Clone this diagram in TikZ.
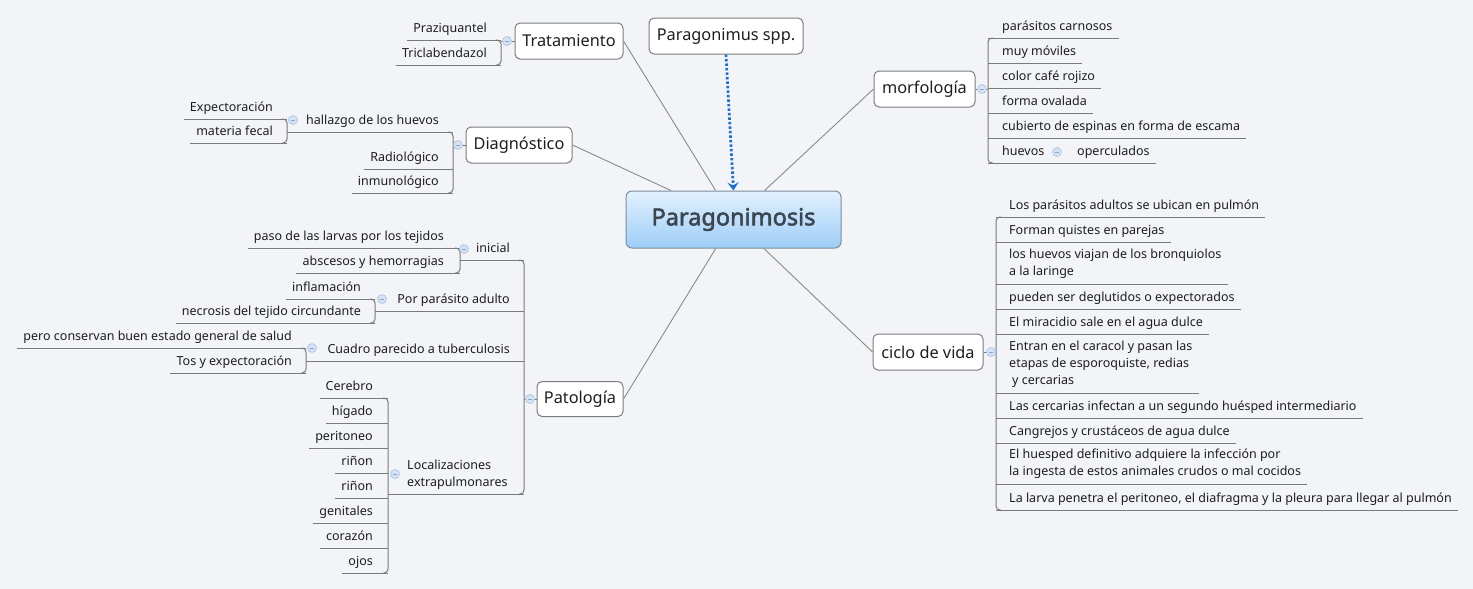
\documentclass[tikz,border=0pt]{standalone}
\usepackage{fontspec}
\setmainfont{Noto Sans}
\newfontfamily\cfont{Noto Sans}[FakeBold=2.2]
\usetikzlibrary{arrows.meta,calc}
\definecolor{bg}{HTML}{F3F4F7}
\definecolor{txt}{HTML}{1E1E1E}
\definecolor{boxc}{HTML}{7D7D7D}
\definecolor{linec}{HTML}{8A8A8A}
\definecolor{ulc}{HTML}{7A7A7A}
\definecolor{togf}{HTML}{D3E2F4}
\definecolor{togd}{HTML}{A9C2E2}
\definecolor{togm}{HTML}{8AA6CC}
\definecolor{arrc}{HTML}{1A6FD0}
\definecolor{ctop}{HTML}{E2F1FF}
\definecolor{cbot}{HTML}{9DCDF7}
\definecolor{cbord}{HTML}{7E8C9A}
\definecolor{ctext}{HTML}{3C4650}
\tikzset{
  topic/.style={draw=boxc, fill=white, rounded corners=5pt, line width=1pt,
    font=\fontsize{16.3}{20}\selectfont, text=txt, inner sep=0pt},
  leaf/.style={font=\fontsize{12.5}{17}\selectfont, text=txt, inner sep=0pt},
  ln/.style={draw=linec, line width=0.9pt},
  ul/.style={draw=ulc, line width=1pt},
  brk/.style={ul, rounded corners=4pt},
  tog/.style={circle, draw=togd, fill=togf, minimum size=9pt, inner sep=0pt, line width=0.6pt,
    path picture={\draw[togm, line width=0.8pt] ([xshift=-2.2pt]path picture bounding box.center) -- ([xshift=2.2pt]path picture bounding box.center);}},
  arr/.style={draw=arrc, line width=2.7pt, dash pattern=on 2.5pt off 2pt,
    -{Stealth[length=8pt, width=11pt, inset=3pt]}}
}
\newcommand\lleaf[5]{%
  \node[leaf, anchor=base east] (#1) at (#2,#3-7.5) {#5};
  \coordinate (#1u) at (#4,#3);
  \draw[ul] ($(#1.west |- #1u)+(-6,0)$) -- (#1u);}
\newcommand\rleaf[5]{%
  \node[leaf, anchor=base west] (#1) at (#2,#3-7.5) {#5};
  \coordinate (#1u) at (#4,#3);
  \draw[ul] (#1u) -- ($(#1.east |- #1u)+(6,0)$);}
\newcommand\rleafm[5]{%
  \node[leaf, anchor=south west, align=left] (#1) at (#2,#3-5) {#5};
  \coordinate (#1u) at (#4,#3);
  \draw[ul] (#1u) -- ($(#1.east |- #1u)+(6,0)$);}
\begin{document}
\begin{tikzpicture}[x=1pt,y=-1pt]
\fill[bg] (0,0) rectangle (1473,589);
\useasboundingbox (0,0) rectangle (1473,589);

% central
\node[draw=cbord, rounded corners=6pt, top color=ctop, bottom color=cbot, line width=1pt,
  minimum width=215pt, minimum height=57pt, inner sep=0pt,
  font=\cfont\fontsize{23.5}{28}\selectfont, text=ctext] (central) at (733.5,219.5) {Paragonimosis};
\node[topic, minimum width=154pt, minimum height=36pt] (ps) at (726,36) {Paragonimus spp.};
\draw[arr] (ps.south) -- (central.north);

% main topics
\node[topic, minimum width=108pt, minimum height=36pt] (tra) at (569,41) {Tratamiento};
\node[topic, minimum width=106pt, minimum height=36pt] (dia) at (519,145) {Diagnóstico};
\node[topic, minimum width=86pt, minimum height=35pt] (pat) at (580,399) {Patología};
\node[topic, minimum width=101pt, minimum height=36pt] (mor) at (924.5,89) {morfología};
\node[topic, minimum width=110pt, minimum height=36pt] (cic) at (928,352) {ciclo de vida};

\draw[ln] (central) -- (tra.east);
\draw[ln] (central) -- (dia.east);
\draw[ln] (central) -- (pat.east);
\draw[ln] (central) -- (mor.west);
\draw[ln] (central) -- (cic.west);

% ---- Tratamiento
\coordinate (trab) at (501,41);
\draw[ul] (trab) -- (tra.west);
\draw[brk] (496,40) -- (501,40) -- (501,65) -- (496,65);
\lleaf{pz}{487}{40}{501}{Praziquantel}
\lleaf{tc}{487}{65}{501}{Triclabendazol}
\node[tog] (tratg) at (507,41) {};

% ---- Diagnóstico
\coordinate (diab) at (453,145);
\draw[ul] (diab) -- (dia.west);
\draw[brk] (448,132) -- (453,132) -- (453,193) -- (448,193);
\node[leaf, anchor=base east] (hal) at (439,124.5) {hallazgo de los huevos};
\coordinate (halb) at (287,132);
\draw[ul] (halb) -- (453,132);
\draw[brk] (282,119) -- (287,119) -- (287,143) -- (282,143);
\lleaf{expo}{273}{119}{287}{Expectoración}
\lleaf{mf}{273}{143}{287}{materia fecal}
\lleaf{rad}{439}{169}{453}{Radiológico}
\lleaf{inm}{439}{193}{453}{inmunológico}
\node[tog] (diatg) at (458,145) {};
\node[tog] (haltg) at (293,120) {};

% ---- Patología
\coordinate (patb) at (524,399);
\draw[ul] (patb) -- (pat.west);
\draw[brk] (519,260) -- (524,260) -- (524,494) -- (519,494);
% inicial
\node[leaf, anchor=base east] (ini) at (510,252.5) {inicial};
\draw[ul] (460,260) -- (524,260);
\draw[brk] (455,248) -- (460,248) -- (460,273) -- (455,273);
\lleaf{pl}{444}{248}{460}{paso de las larvas por los tejidos}
\lleaf{abs}{444}{273}{460}{abscesos y hemorragias}
% por parasito adulto
\node[leaf, anchor=base east] (por) at (510,303.5) {Por parásito adulto};
\draw[ul] (375,311) -- (524,311);
\draw[brk] (370,299) -- (375,299) -- (375,323) -- (370,323);
\lleaf{infl}{361}{299}{375}{inflamación}
\lleaf{nec}{361}{323}{375}{necrosis del tejido circundante}
% cuadro
\node[leaf, anchor=base east] (cua) at (510,353.5) {Cuadro parecido a tuberculosis};
\draw[ul] (306,361) -- (524,361);
\draw[brk] (301,348) -- (306,348) -- (306,373) -- (301,373);
\lleaf{pco}{292}{348}{306}{pero conservan buen estado general de salud}
\lleaf{tos}{292}{373}{306}{Tos y expectoración}
% localizaciones
\node[leaf, anchor=south west, align=left] (loc) at (407,489.5) {Localizaciones\\extrapulmonares};
\draw[ul] (388,494) -- (524,494);
\draw[brk] (383,398) -- (388,398) -- (388,573) -- (383,573);
\lleaf{l1}{373}{398}{388}{Cerebro}
\lleaf{l2}{373}{423}{388}{hígado}
\lleaf{l3}{373}{448}{388}{peritoneo}
\lleaf{l4}{373}{473}{388}{riñon}
\lleaf{l5}{373}{498}{388}{riñon}
\lleaf{l6}{373}{523}{388}{genitales}
\lleaf{l7}{373}{548}{388}{corazón}
\lleaf{l8}{373}{573}{388}{ojos}
\node[tog] (pattg) at (530,399) {};
\node[tog] (initg) at (464,249) {};
\node[tog] (portg) at (382,299) {};
\node[tog] (cuatg) at (312,348) {};
\node[tog] (loctg) at (395,474) {};

% ---- morfología
\coordinate (morb) at (988,89);
\draw[ul] (mor.east) -- (morb);
\draw[brk] (993,38) -- (988,38) -- (988,163) -- (993,163);
\rleaf{m1}{1002}{38}{988}{parásitos carnosos}
\rleaf{m2}{1002}{63}{988}{muy móviles}
\rleaf{m3}{1002}{88}{988}{color café rojizo}
\rleaf{m4}{1002}{113}{988}{forma ovalada}
\rleaf{m5}{1002}{138}{988}{cubierto de espinas en forma de escama}
\node[leaf, anchor=base west] (hue) at (1002,155.5) {huevos};
\node[leaf, anchor=base west] (ope) at (1077,155.5) {operculados};
\coordinate (hueb) at (988,163);
\draw[ul] (hueb) -- ($(ope.east |- hueb)+(6,0)$);
\node[tog] (mortg) at (982,89) {};
\node[tog] (huetg) at (1057,152) {};

% ---- ciclo de vida
\coordinate (cicb) at (996,352);
\draw[ul] (cic.east) -- (cicb);
\draw[brk] (1001,217) -- (996,217) -- (996,510) -- (1001,510);
\rleaf{c1}{1009}{217}{996}{Los parásitos adultos se ubican en pulmón}
\rleaf{c2}{1009}{242}{996}{Forman quistes en parejas}
\rleafm{c3}{1009}{284}{996}{los huevos viajan de los bronquiolos\\a la laringe}
\rleaf{c4}{1009}{309}{996}{pueden ser deglutidos o expectorados}
\rleaf{c5}{1009}{334}{996}{El miracidio sale en el agua dulce}
\rleafm{c6}{1009}{393}{996}{Entran en el caracol y pasan las\\etapas de esporoquiste, redias\\\hspace*{3pt}y cercarias}
\rleaf{c7}{1009}{418}{996}{Las cercarias infectan a un segundo huésped intermediario}
\rleaf{c8}{1009}{443}{996}{Cangrejos y crustáceos de agua dulce}
\rleafm{c9}{1009}{484}{996}{El huesped definitivo adquiere la infección por\\la ingesta de estos animales crudos o mal cocidos}
\rleaf{c10}{1009}{510}{996}{La larva penetra el peritoneo, el diafragma y la pleura para llegar al pulmón}
\node[tog] (cictg) at (991,352) {};
\end{tikzpicture}
\end{document}
